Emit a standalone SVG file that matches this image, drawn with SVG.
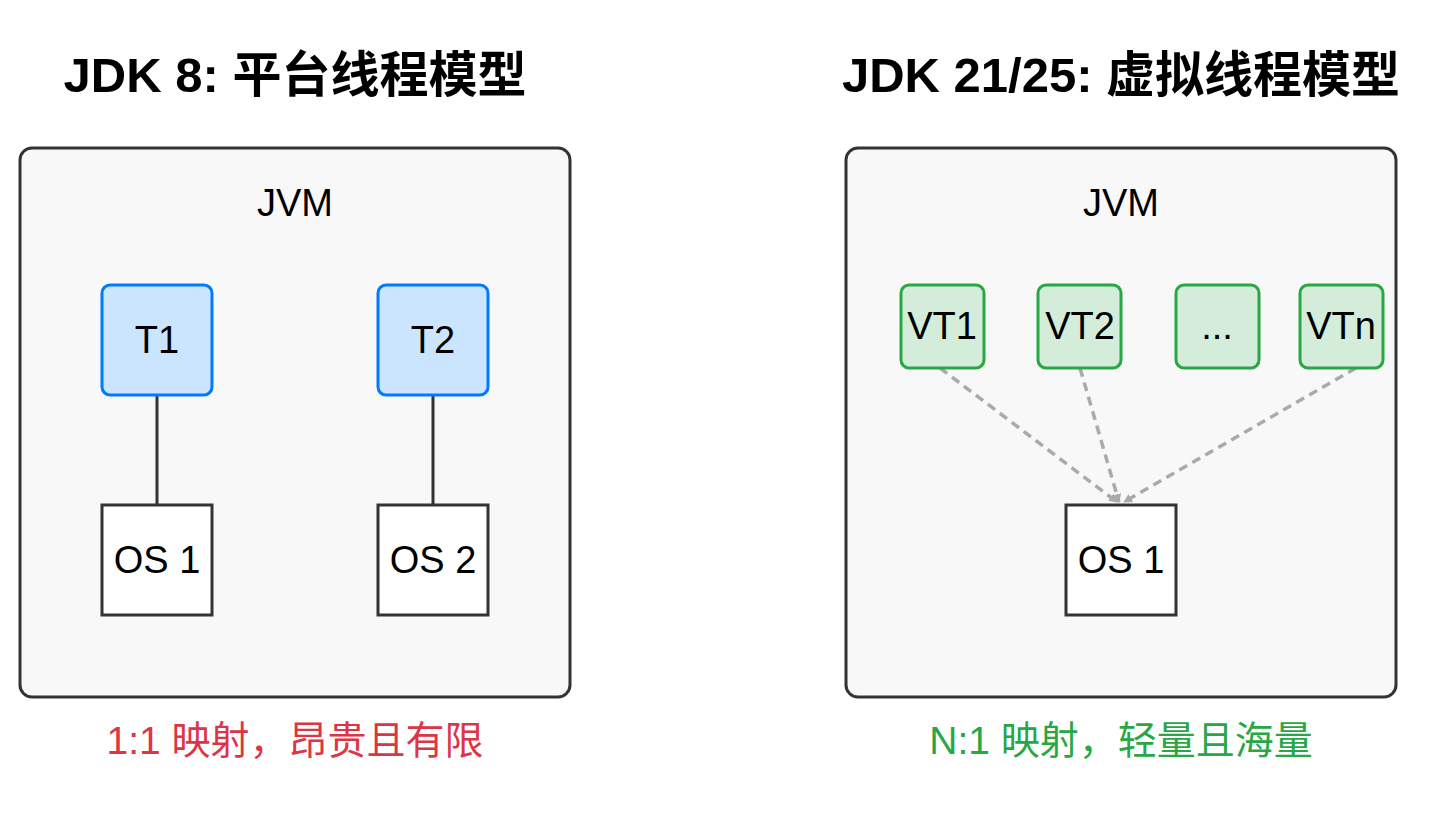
<svg xmlns="http://www.w3.org/2000/svg" width="1451" height="822" viewBox="0 0 1451 822">
<style>
text{font-family:"Liberation Sans","Noto Sans CJK SC",sans-serif;text-anchor:middle;dominant-baseline:central}
.title{font-size:49px;font-weight:bold;fill:#000}
.frame{fill:#f8f8f8;stroke:#333;stroke-width:3}
.t{fill:#cce5ff;stroke:#007bff;stroke-width:3}
.vt{fill:#d4edda;stroke:#28a745;stroke-width:3}
.os{fill:#fff;stroke:#333;stroke-width:3}
.lbl{font-size:38px;fill:#000}
.solid{stroke:#333;stroke-width:3}
.dash{stroke:#aaa;stroke-width:3.5;stroke-dasharray:9 6;fill:none}
</style>
<defs><marker id="ah" markerWidth="9" markerHeight="9" refX="8" refY="4.5" orient="auto" markerUnits="userSpaceOnUse"><path d="M0,0 L9,4.5 L0,9 Z" fill="#aaa"/></marker></defs>
<text class="title" x="295" y="75">JDK 8: 平台线程模型</text>
<text class="title" x="1121" y="75">JDK 21/25: 虚拟线程模型</text>
<g id="jvm1"><rect class="frame" x="20" y="148" width="550" height="549" rx="12"/><text class="lbl" x="295" y="203">JVM</text></g>
<g id="jvm2"><rect class="frame" x="846" y="148" width="550" height="549" rx="12"/><text class="lbl" x="1121" y="203">JVM</text></g>
<g id="connectors">
<line class="solid" x1="157" y1="395" x2="157" y2="505"/>
<line class="solid" x1="433" y1="395" x2="433" y2="505"/>
<line class="dash" x1="940" y1="368" x2="1117" y2="502" marker-end="url(#ah)"/>
<line class="dash" x1="1080" y1="368" x2="1119" y2="502" marker-end="url(#ah)"/>
<line class="dash" x1="1356" y1="368" x2="1124" y2="502" marker-end="url(#ah)"/>
</g>
<g id="T1"><rect class="t" x="102" y="285" width="110" height="110" rx="8"/><text class="lbl" x="157" y="340">T1</text></g>
<g id="T2"><rect class="t" x="378" y="285" width="110" height="110" rx="8"/><text class="lbl" x="433" y="340">T2</text></g>
<g id="OS1a"><rect class="os" x="102" y="505" width="110" height="110"/><text class="lbl" x="157" y="560">OS 1</text></g>
<g id="OS2"><rect class="os" x="378" y="505" width="110" height="110"/><text class="lbl" x="433" y="560">OS 2</text></g>
<g id="VT1"><rect class="vt" x="901" y="285" width="83" height="83" rx="8"/><text class="lbl" x="942" y="326">VT1</text></g>
<g id="VT2"><rect class="vt" x="1038" y="285" width="83" height="83" rx="8"/><text class="lbl" x="1080" y="326">VT2</text></g>
<g id="VTdots"><rect class="vt" x="1176" y="285" width="83" height="83" rx="8"/><text class="lbl" x="1217" y="326">...</text></g>
<g id="VTn"><rect class="vt" x="1300" y="285" width="83" height="83" rx="8"/><text class="lbl" x="1341" y="326">VTn</text></g>
<g id="OS1b"><rect class="os" x="1066" y="505" width="110" height="110"/><text class="lbl" x="1121" y="560">OS 1</text></g>
<text x="295" y="740" style="font-size:39px;fill:#dc3545">1:1 映射，昂贵且有限</text>
<text x="1121" y="740" style="font-size:39px;fill:#28a745">N:1 映射，轻量且海量</text>
</svg>
